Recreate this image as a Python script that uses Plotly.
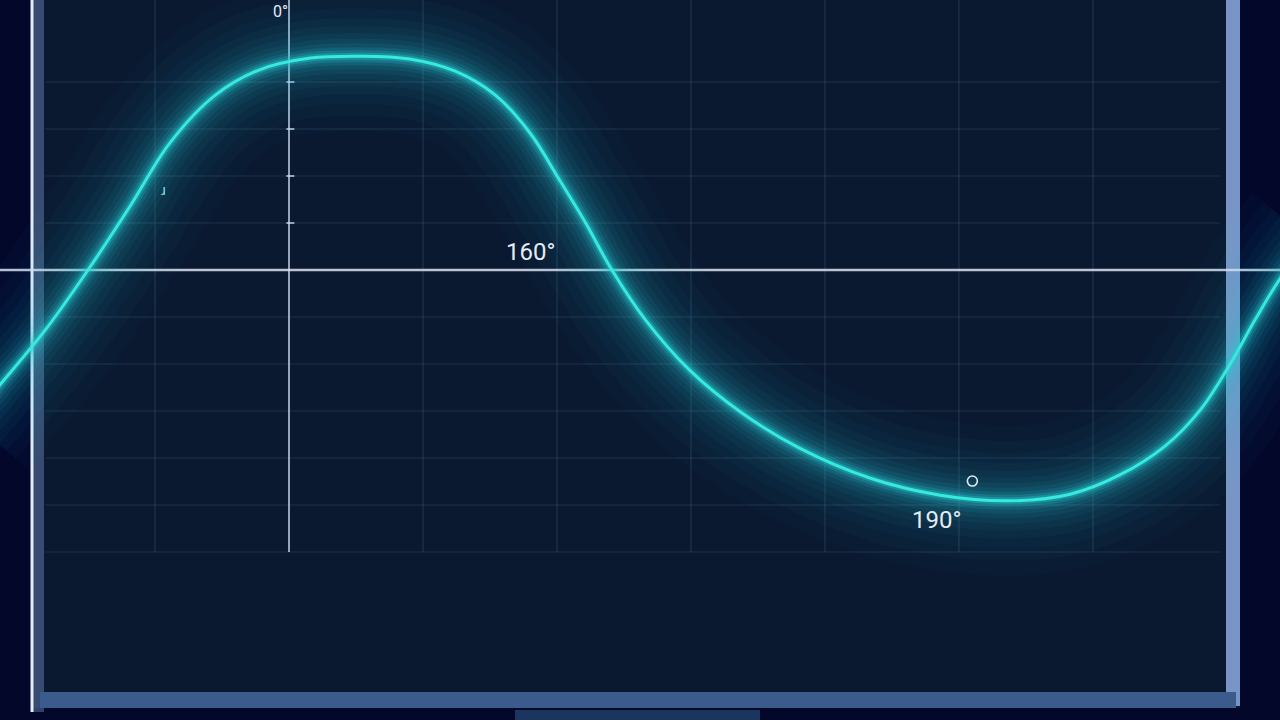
import plotly.graph_objects as go

# curve (x: grid columns from the vertical axis, y: grid rows from the horizontal axis)
# first and last points run just past the edges so the glow is not cut square
wave_x = [-2.38, -2.16, -1.82, -1.50, -1.19, -0.89, -0.55, -0.22, 0.16, 0.53, 0.90, 1.24,
          1.54, 1.80, 2.02, 2.21, 2.41, 2.66, 2.99, 3.37, 3.81, 4.34, 4.86, 5.38, 5.83,
          6.20, 6.54, 6.80, 7.02, 7.21, 7.40, 7.62]
wave_y = [-3.19, -2.45, -1.28, 0.00, 1.34, 2.70, 3.72, 4.26, 4.51, 4.55, 4.49, 4.23,
          3.72, 2.91, 1.91, 1.02, 0.00, -1.06, -2.13, -3.02, -3.79, -4.43, -4.79, -4.91, -4.77,
          -4.36, -3.74, -2.98, -2.02, -1.06, -0.17, 0.64]

grid_cols = [-1, 0, 1, 2, 3, 4, 5, 6]
grid_rows = [4, 3, 2, 1, -1, -2, -3, -4, -5, -6]
axis_ticks = [1, 2, 3, 4]

labels = ["0°", "160°", "190°"]
label_x = [-0.06, 1.80, 4.83]
label_y = [5.50, 0.38, -5.32]

marker_x = [5.10]
marker_y = [-4.49]

X_RANGE = [-2.157, 7.396]
Y_RANGE = [-9.574, 5.745]

CYAN = "#36eadc"
W, H = 1280, 720


def px(x):
    return x / W


def py(y):
    return 1 - y / H


fig = go.Figure()

# glow: many wide translucent copies under the core line, so the halo fades smoothly
glow = [(150, 0.025), (120, 0.03), (96, 0.035), (76, 0.04), (60, 0.045), (46, 0.055),
        (35, 0.07), (26, 0.09), (18, 0.13), (12, 0.2), (7, 0.32)]
for width, alpha in glow:
    fig.add_trace(go.Scatter(
        x=wave_x, y=wave_y, mode="lines", line_shape="spline",
        line=dict(color=f"rgba(40,205,215,{alpha})", width=width),
        hoverinfo="skip", showlegend=False,
    ))
fig.add_trace(go.Scatter(
    x=wave_x, y=wave_y, mode="lines", line_shape="spline",
    line=dict(color=CYAN, width=3), showlegend=False,
))
fig.add_trace(go.Scatter(
    x=marker_x, y=marker_y, mode="markers",
    marker=dict(symbol="circle-open", size=10, color="#dfe8f2", line=dict(width=1.6)),
    showlegend=False,
))

shapes = []
# dark surround outside the frame
shapes.append(dict(type="rect", xref="paper", yref="paper", x0=0, x1=px(31), y0=0, y1=1,
                   fillcolor="#03072a", line_width=0, layer="below"))
shapes.append(dict(type="rect", xref="paper", yref="paper", x0=px(1240), x1=1, y0=0, y1=1,
                   fillcolor="#03072a", line_width=0, layer="below"))
shapes.append(dict(type="rect", xref="paper", yref="paper", x0=0, x1=1, y0=0, y1=py(708),
                   fillcolor="#03072a", line_width=0, layer="below"))

# faint grid
for c in grid_cols:
    shapes.append(dict(type="line", xref="x", yref="y", x0=c, x1=c, y0=Y_RANGE[1], y1=-6.0,
                       line=dict(color="rgba(130,160,200,0.15)", width=1.5), layer="below"))
for r in grid_rows:
    shapes.append(dict(type="line", xref="x", yref="y", x0=-1.82, x1=6.95, y0=r, y1=r,
                       line=dict(color="rgba(130,160,200,0.13)", width=1.5), layer="below"))

# axes
shapes.append(dict(type="line", xref="x", yref="y", x0=0, x1=0, y0=Y_RANGE[1], y1=-6.0,
                   line=dict(color="rgba(210,220,238,0.7)", width=2), layer="below"))
for t in axis_ticks:
    shapes.append(dict(type="line", xref="x", yref="y", x0=-0.02, x1=0.04, y0=t, y1=t,
                       line=dict(color="rgba(210,220,238,0.7)", width=2), layer="below"))
shapes.append(dict(type="line", xref="x", yref="y", x0=X_RANGE[0], x1=X_RANGE[1], y0=0, y1=0,
                   line=dict(color="rgba(220,228,242,0.85)", width=2.5), layer="below"))

# frame bars
shapes.append(dict(type="rect", xref="paper", yref="paper", x0=px(33), x1=px(44), y0=py(712), y1=1,
                   fillcolor="rgba(110,140,190,0.45)", line_width=0, layer="below"))
shapes.append(dict(type="line", xref="paper", yref="paper", x0=px(32), x1=px(32), y0=py(712), y1=1,
                   line=dict(color="#e4ecff", width=3), layer="below"))
shapes.append(dict(type="rect", xref="paper", yref="paper", x0=px(1226), x1=px(1240), y0=py(706), y1=1,
                   fillcolor="#7895c6", line_width=0, layer="below"))
shapes.append(dict(type="rect", xref="paper", yref="paper", x0=px(40), x1=px(1236), y0=py(708), y1=py(692),
                   fillcolor="#3b5b8c", line_width=0, layer="below"))
shapes.append(dict(type="rect", xref="paper", yref="paper", x0=px(515), x1=px(760), y0=0, y1=py(710),
                   fillcolor="#1c355e", line_width=0, layer="below"))

annotations = []
for t, ax_, ay_ in zip(labels, label_x, label_y):
    annotations.append(dict(x=ax_, y=ay_, xref="x", yref="y", text=t, showarrow=False,
                            font=dict(family="Roboto, Arial, sans-serif", size=24, color="#e4ecf6")))
annotations[0]["font"]["size"] = 16
annotations.append(dict(x=-0.94, y=1.70, xref="x", yref="y", text="ɹ", showarrow=False,
                        font=dict(family="Roboto, Arial, sans-serif", size=14, color="#7fe8e0")))

fig.update_layout(
    width=W, height=H,
    margin=dict(l=0, r=0, t=0, b=0),
    paper_bgcolor="#03072a", plot_bgcolor="#0a1830",
    xaxis=dict(range=X_RANGE, visible=False, fixedrange=True),
    yaxis=dict(range=Y_RANGE, visible=False, fixedrange=True),
    shapes=shapes, annotations=annotations,
    showlegend=False,
)

fig.write_html("out.html", config={"displayModeBar": False},
               post_script="document.body.style.margin='0';")
